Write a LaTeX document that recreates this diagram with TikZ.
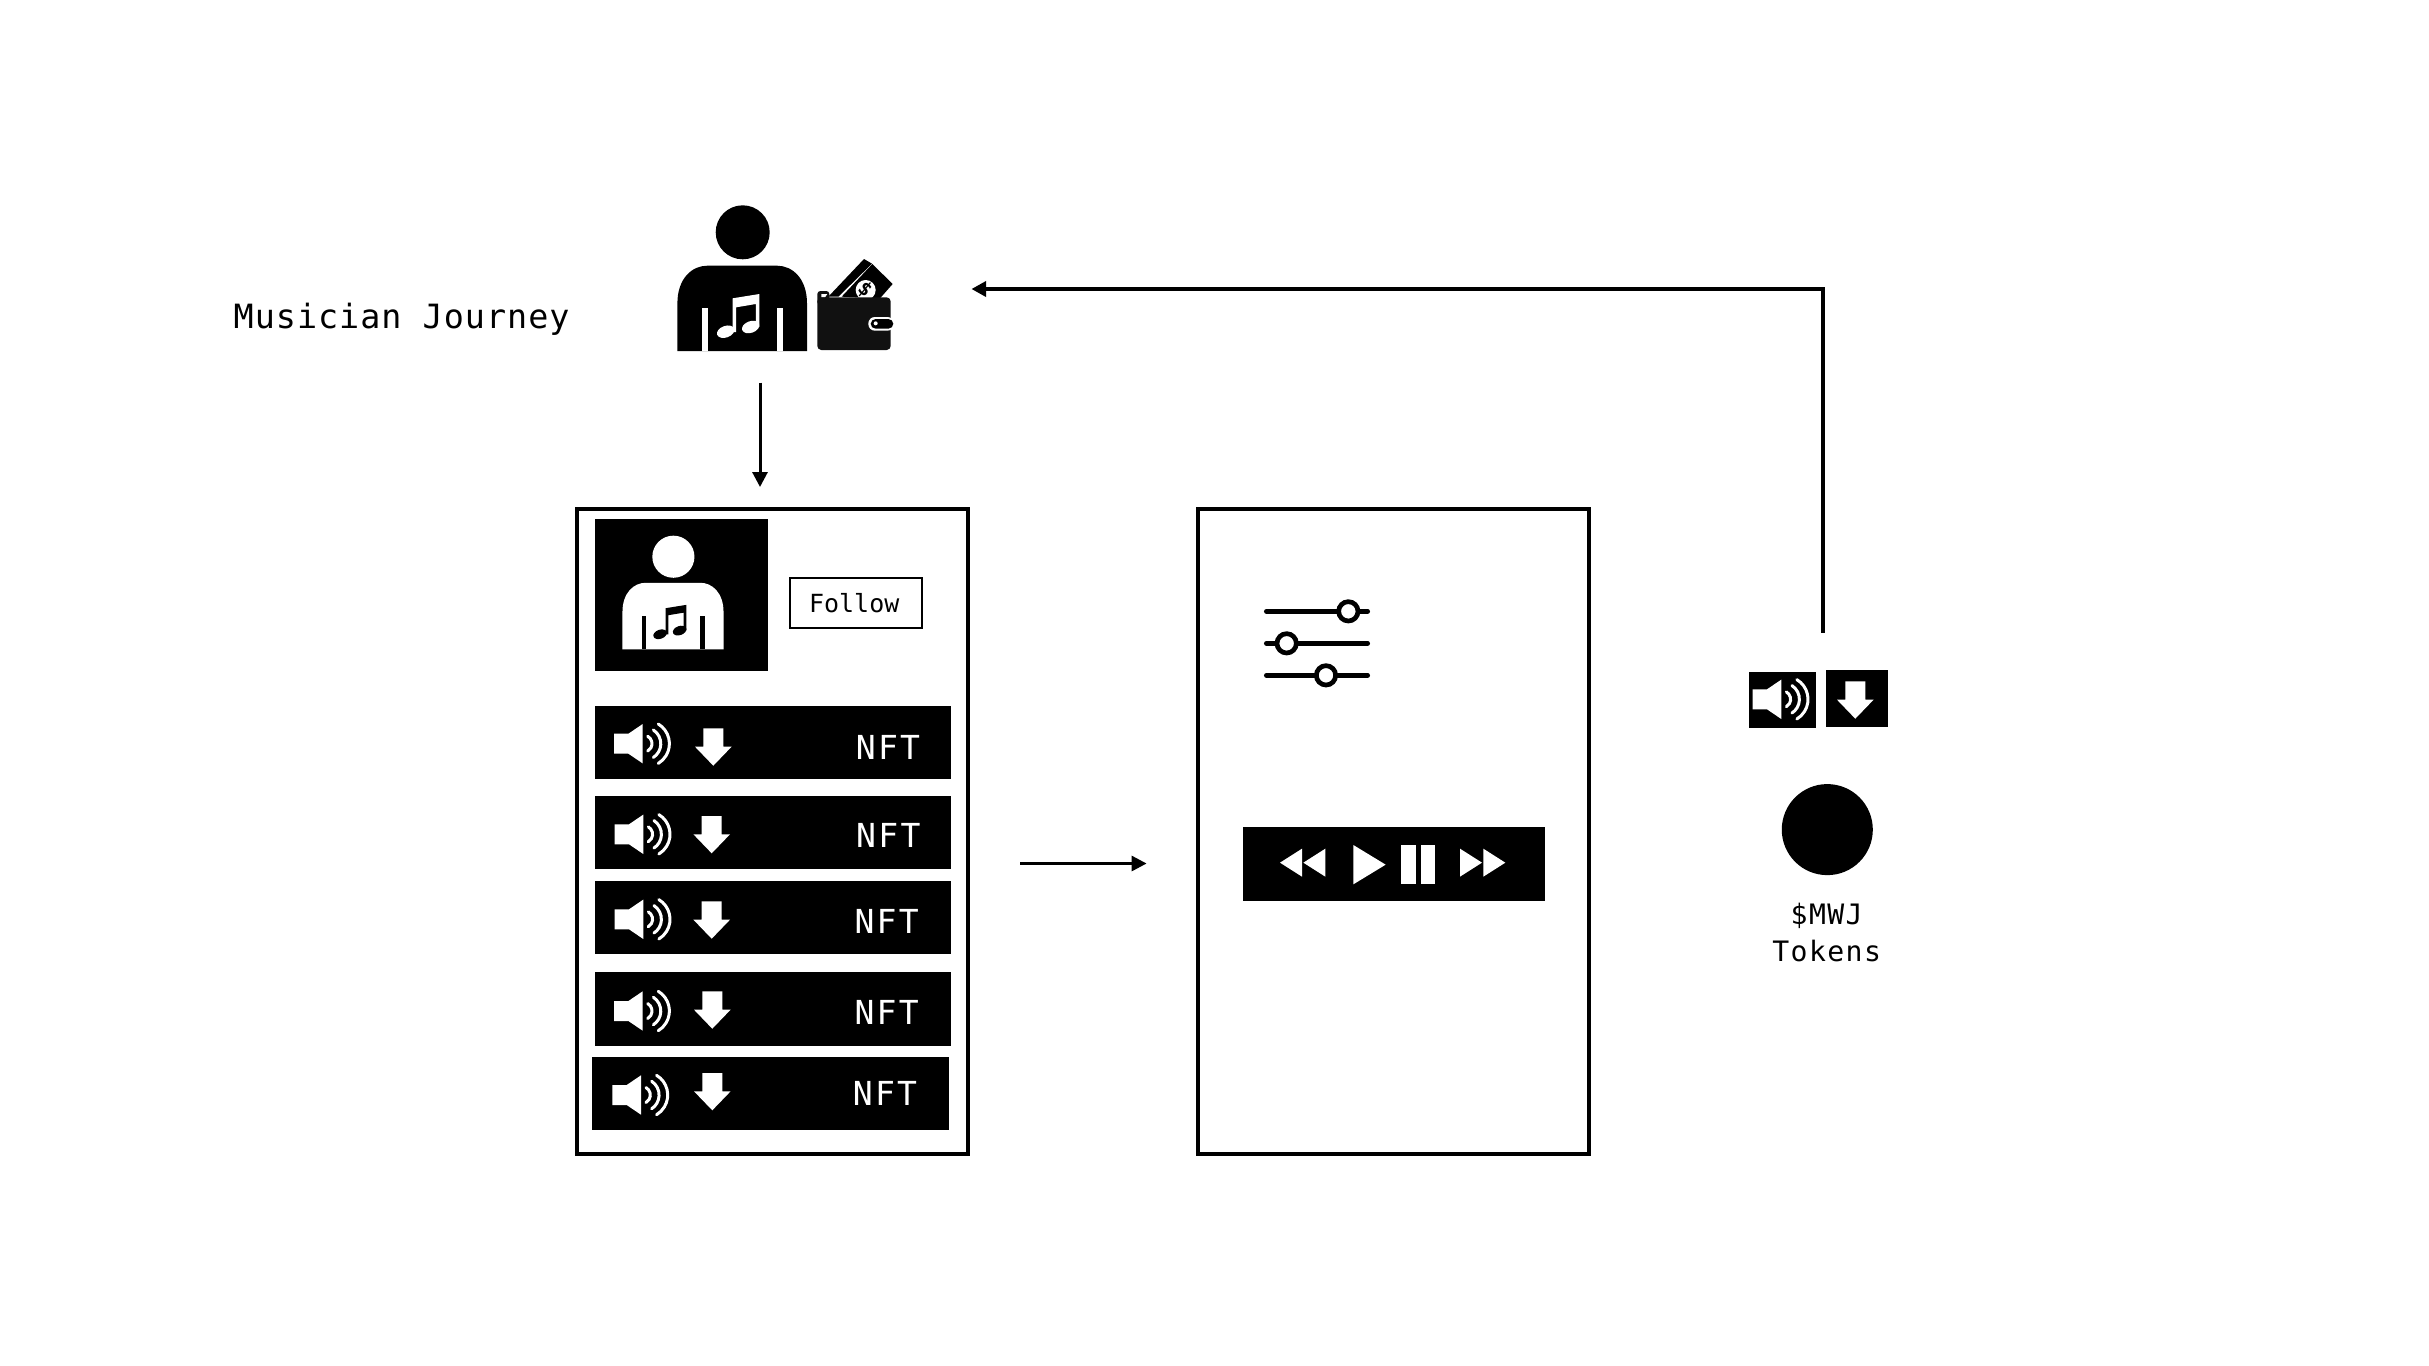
\documentclass[tikz,border=0pt]{standalone}
\usepackage{fontspec}
\setmonofont{DejaVu Sans Mono}
\newfontfamily\labelfont{DejaVu Sans Mono}
\newfontfamily\spacedfont[LetterSpace=7]{DejaVu Sans Mono}
\newfontfamily\slightfont[LetterSpace=3]{DejaVu Sans Mono}
\newfontfamily\tokenfont[LetterSpace=5]{DejaVu Sans Mono}
\usetikzlibrary{arrows.meta}
\definecolor{walletblack}{HTML}{111111}
\tikzset{
  x=0.01cm, y=-0.01cm,
  panelbox/.style={draw=black, line width=0.04cm, fill=white, inner sep=0pt, outer sep=0pt, anchor=north west, minimum width=3.91cm, minimum height=6.45cm},
  barbox/.style={fill=black, inner sep=0pt, outer sep=0pt, anchor=north west, minimum height=0.735cm, minimum width=3.557cm},
  iconbox/.style={fill=black, inner sep=0pt, outer sep=0pt, anchor=north west},
  followbox/.style={draw=black, line width=0.02cm, inner sep=0pt, outer sep=0pt, minimum width=1.32cm, minimum height=0.5cm, font=\labelfont\fontsize{7.1pt}{8.5pt}\selectfont},
  nftlabel/.style={text=white, anchor=base, inner sep=0pt, font=\spacedfont\fontsize{9.4pt}{11pt}\selectfont},
  titlelabel/.style={anchor=base west, inner sep=0pt, font=\slightfont\fontsize{9.5pt}{11pt}\selectfont},
  tokenlabel/.style={anchor=base, inner sep=0pt, font=\tokenfont\fontsize{8pt}{10pt}\selectfont},
  flowarrow/.style={draw=black, line width=0.03cm, -{Triangle[length=0.15cm,width=0.15cm]}},
  loudarrow/.style={draw=black, line width=0.034cm, -{Triangle[length=0.145cm,width=0.15cm]}},
  slideline/.style={draw=black, line width=0.047cm, line cap=round},
  slideknob/.style={draw=black, fill=white, line width=0.047cm},
  speaker/.pic={
    \fill[white] (-28.7,-10) -- (-14.3,-10) -- (0,-19.7) -- (0,19.7) -- (-14.3,10) -- (-28.7,10) -- cycle;
    \draw[white, line width=0.03cm, line cap=round]
      (3.7,0) ++(-59:23) arc[start angle=-59, end angle=59, radius=23]
      (1.7,0) ++(-57:16.4) arc[start angle=-57, end angle=57, radius=16.4]
      (0.7,0) ++(-60:8.6) arc[start angle=-60, end angle=60, radius=8.6];
  },
  downarr/.pic={
    \fill[white] (-10,-37.3) -- (10,-37.3) -- (10,-19) -- (18.3,-19) -- (0,0) -- (-18.3,-19) -- (-10,-19) -- cycle;
  }
}
\newcommand{\personicon}[5]{%
  \begin{scope}[shift={(#1,#2)}, scale=#3]
    \fill[#4] (0.5,-118.7) circle[radius=27];
    \fill[#4] (-64.8,0) -- (-64.8,-47.7) .. controls (-64.8,-72.7) and (-50,-85.3) .. (-35,-85.3)
      -- (35,-85.3) .. controls (50,-85.3) and (64.8,-72.7) .. (64.8,-47.7) -- (64.8,0) -- cycle;
    \fill[#5] (-40,-42.7) rectangle (-34,0);
    \fill[#5] (35,-42.7) rectangle (41,0);
    \fill[#5] (-9.5,-52.7) -- (17.2,-57) -- (17.2,-24.3) -- (13.7,-24.3) -- (13.7,-47) -- (-6,-43.7) -- (-6,-19) -- (-9.5,-19) -- cycle;
    \fill[#5, shift={(8.5,-24)}, rotate=20] (0,0) ellipse[x radius=9, y radius=5.8];
    \fill[#5, shift={(-16.5,-19.3)}, rotate=20] (0,0) ellipse[x radius=9, y radius=5.8];
  \end{scope}%
}
\begin{document}
\begin{tikzpicture}
\useasboundingbox (0,0) rectangle (2429,1366);
\fill[white] (0,0) rectangle (2429,1366);

% title
\node[titlelabel] (title) at (233,328) {Musician Journey};

% person
\personicon{742.2}{351}{1}{black}{white}

% wallet
\begin{scope}[shift={(660,190)}, scale=1/3]
  \fill[black] (505,320) -- (612,207) -- (636,221) -- (535,320) -- cycle;
  \fill[black] (545,320) -- (637,222) -- (698,282) -- (660,325) -- cycle;
  \fill[white] (617,300) circle[radius=30];
  \node[rotate=-40, inner sep=0pt, font=\labelfont\bfseries\fontsize{5.5pt}{6pt}\selectfont] (dollar) at (615,298) {\$};
  \fill[walletblack, rounded corners=0.03cm] (472,345) -- (472,303) -- (508,303) -- (508,345) -- cycle;
  \fill[white] (484,312) -- (502,312) -- (495,322) -- (484,322) -- cycle;
  \fill[walletblack, rounded corners=0.04cm] (472,322) rectangle (692,480);
  \fill[white, rounded corners=0.065cm] (625,381) rectangle (702,422);
  \fill[black, rounded corners=0.05cm] (632,387) rectangle (700,416);
  \fill[white] (647,400) circle[radius=6];
\end{scope}

% panels
\node[panelbox] (profile) at (576.5,509) {};
\node[panelbox] (player) at (1198,509) {};

% avatar + follow
\node[iconbox, minimum width=1.733cm, minimum height=1.52cm] (avatar) at (594.8,519.3) {};
\personicon{673}{649.3}{0.78}{white}{black}
\node[followbox] (follow) at (856,603) {\kern-1pt Follow};

% rows
\node[barbox] (row1) at (594.8,705.7) {};
\node[barbox] (row2) at (594.8,795.8) {};
\node[barbox] (row3) at (594.8,880.8) {};
\node[barbox, minimum height=0.74cm] (row4) at (594.8,971.7) {};
\node[barbox, minimum width=3.567cm] (row5) at (591.8,1056.7) {};

\pic at (642.7,743.7) {speaker};
\pic at (713.3,765.7) {downarr};
\node[nftlabel] (nft1) at (888,759.3) {NFT};
\pic at (643.3,834.3) {speaker};
\pic at (711.7,853.3) {downarr};
\node[nftlabel] (nft2) at (888.3,847.7) {NFT};
\pic at (643.3,919.3) {speaker};
\pic at (711.7,938.7) {downarr};
\node[nftlabel] (nft3) at (886.7,933.3) {NFT};
\pic at (642.7,1011) {speaker};
\pic at (712.3,1028.7) {downarr};
\node[nftlabel] (nft4) at (886.7,1024.3) {NFT};
\pic at (641,1095) {speaker};
\pic at (712.3,1110.3) {downarr};
\node[nftlabel] (nft5) at (885,1105) {NFT};

% sliders and transport bar
\begin{scope}[shift={(1190,570)}, scale=1/3]
  \draw[slideline] (229,124) -- (533,124);
  \draw[slideline] (229,220) -- (533,220);
  \draw[slideline] (229,316) -- (533,316);
  \draw[slideknob] (475,124) circle[radius=29];
  \draw[slideknob] (290,220) circle[radius=29];
  \draw[slideknob] (408,316) circle[radius=29];
\end{scope}
\node[iconbox, minimum width=3.02cm, minimum height=0.735cm] (transport) at (1243,827.3) {};
\begin{scope}[shift={(1190,570)}, scale=1/3]
  \fill[white] (270,878) -- (336,836) -- (336,920) -- cycle;
  \fill[white] (340,878) -- (406,836) -- (406,920) -- cycle;
  \fill[white] (490,825) -- (490,943) -- (587,884) -- cycle;
  \fill[white] (634,825) rectangle (677,943);
  \fill[white] (692,825) rectangle (734,943);
  \fill[white] (810,836) -- (810,920) -- (876,878) -- cycle;
  \fill[white] (880,836) -- (880,920) -- (946,878) -- cycle;
\end{scope}

% token side
\node[iconbox, minimum width=0.672cm, minimum height=0.56cm] (soundbox) at (1748.8,671.6) {};
\node[iconbox, minimum width=0.622cm, minimum height=0.57cm] (savebox) at (1825.6,669.6) {};
\pic at (1781.3,699.3) {speaker};
\pic at (1855.3,718.7) {downarr};
\node[circle, fill=black, inner sep=0pt, outer sep=0pt, minimum size=0.91cm] (token) at (1827.3,829.6) {};
\node[tokenlabel] (mwj) at (1826.7,924) {\$MWJ};
\node[tokenlabel] (tok) at (1826.7,961.7) {Tokens};

% connectors
\coordinate (personout) at (760,382.7);
\coordinate (profilein) at (760,487);
\coordinate (profileout) at (1020,863.5);
\coordinate (playerin) at (1146.6,863.5);
\coordinate (tokensout) at (1823,632.5);
\coordinate (walletin) at (971.5,289);
\draw[flowarrow] (personout) -- (profilein);
\draw[flowarrow] (profileout) -- (playerin);
\draw[loudarrow] (tokensout) |- (walletin);
\end{tikzpicture}
\end{document}
